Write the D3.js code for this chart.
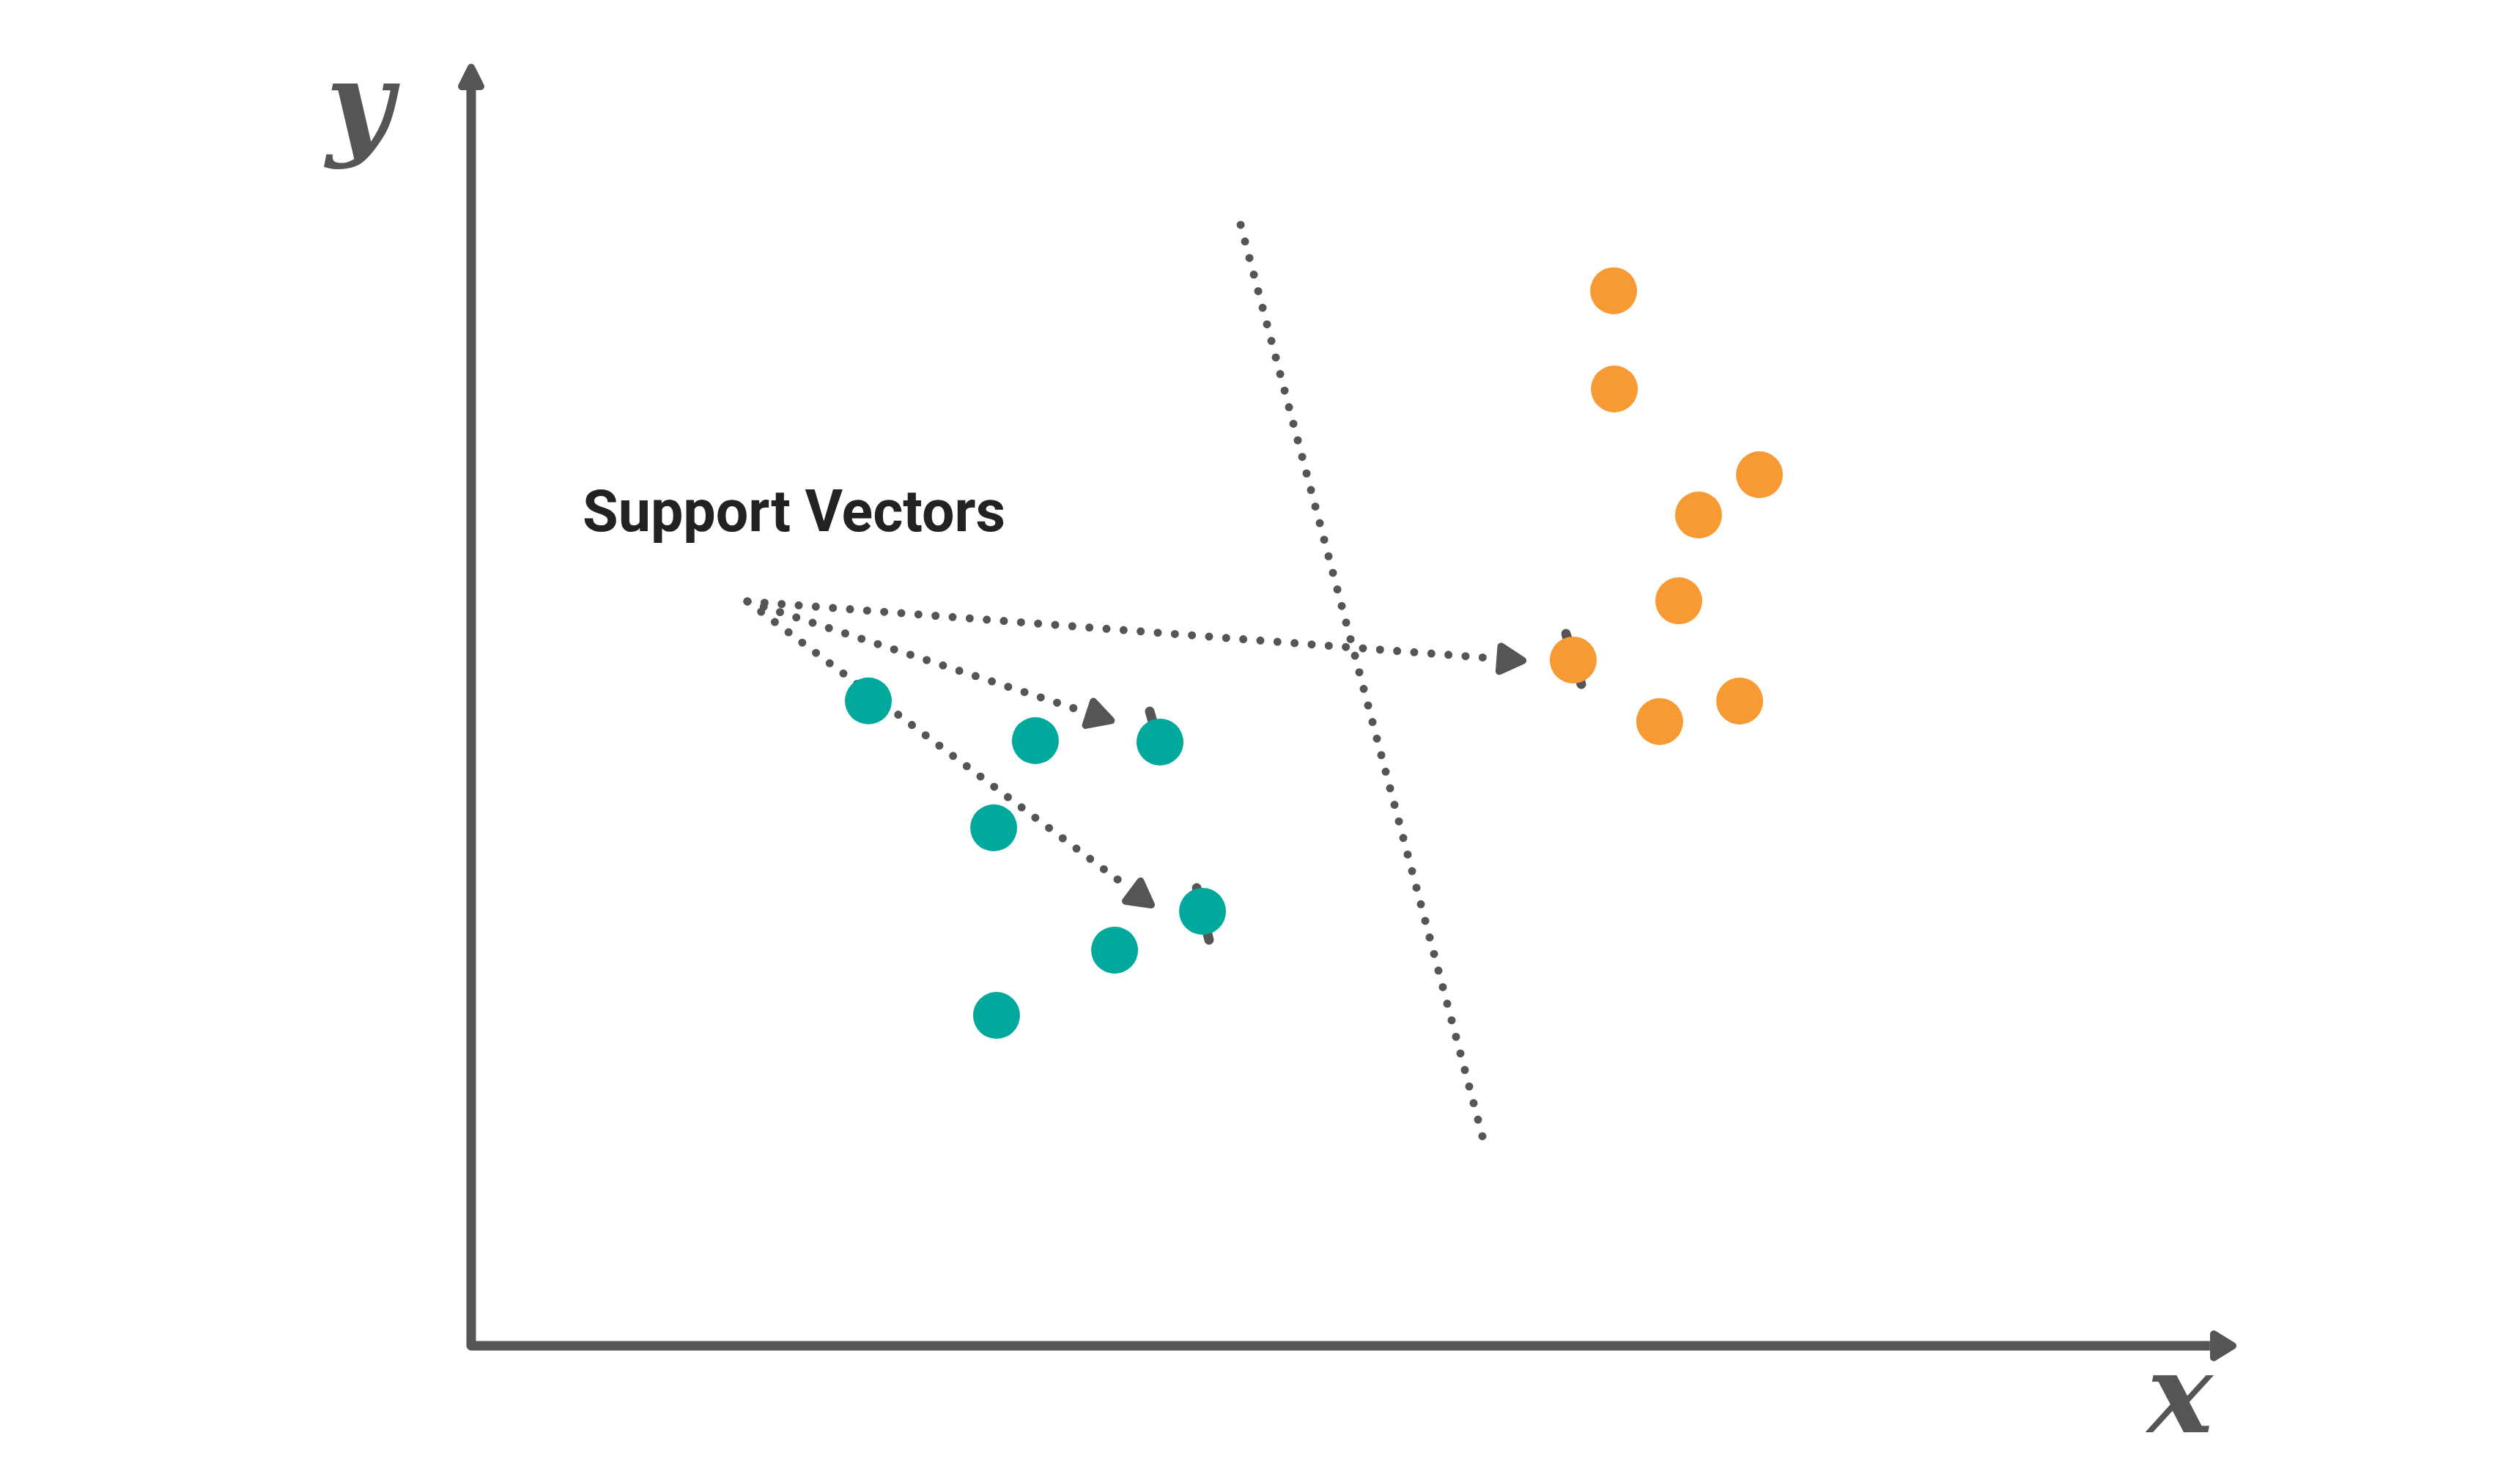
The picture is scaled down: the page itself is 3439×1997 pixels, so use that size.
<!DOCTYPE html>
<html>
<head>
<meta charset="utf-8">
<script src="https://cdn.jsdelivr.net/npm/d3@7"></script>
<style>
  html, body { margin: 0; padding: 0; background: #ffffff; }
  svg { display: block; }
</style>
</head>
<body>
<script>
// ---------- DATA (arbitrary feature units, 0..10 on both axes) ----------
const classA = [ // teal
  [2.25, 5.03], [3.196, 4.72], [3.902, 4.709], [2.96, 4.04],
  [4.143, 3.389], [3.645, 3.086], [2.976, 2.577]
];
const classB = [ // orange
  [6.472, 8.229], [6.476, 7.463], [7.298, 6.794], [6.953, 6.48],
  [6.243, 5.349], [6.841, 5.811], [6.733, 4.869], [7.186, 5.029]
];
const hyperplane = [[4.359, 8.743], [5.733, 1.611]];
const arrowOrigin = [1.565, 5.806];
const arrowTips = [[5.978, 5.343], [3.645, 4.869], [3.869, 3.423]];
const supportStubs = [
  [[6.202, 5.554], [6.289, 5.160]],
  [[3.844, 4.949], [3.919, 4.583]],
  [[4.110, 3.571], [4.180, 3.166]]
];
const annotation = "Support Vectors";
const axisLabels = { x: "x", y: "y" };

// ---------- LAYOUT ----------
const W = 3439, H = 1997;
const GREY = "#555555", TEAL = "#00a99b", ORANGE = "#f89a33";

const x = d3.scaleLinear().domain([0, 10]).range([643, 3052]);
const y = d3.scaleLinear().domain([0, 10]).range([1837, 87]);

const svg = d3.select("body").append("svg").attr("width", W).attr("height", H);
const line = d3.line().x(d => x(d[0])).y(d => y(d[1]));

// axes (with arrowheads)
svg.append("path")
  .attr("d", line([[0, 9.8], [0, 0], [9.85, 0]]))
  .attr("fill", "none").attr("stroke", GREY).attr("stroke-width", 13)
  .attr("stroke-linejoin", "round").attr("stroke-linecap", "butt");

function head(tipPx, angleDeg, len, half, sw) {
  svg.append("path")
    .attr("d", `M0,0 L${-len},${-half} L${-len},${half} Z`)
    .attr("transform", `translate(${tipPx[0]},${tipPx[1]}) rotate(${angleDeg})`)
    .attr("fill", GREY).attr("stroke", GREY).attr("stroke-width", sw)
    .attr("stroke-linejoin", "round");
}
head([x(0), y(10) + 5], -90, 26, 13, 10);
head([x(10) - 5, y(0)], 0, 26, 16, 10);

// hyperplane (dotted)
const DOT = { w: 11, dash: "0 23.4" };
svg.append("path")
  .attr("d", line(hyperplane))
  .attr("fill", "none").attr("stroke", GREY).attr("stroke-width", DOT.w)
  .attr("stroke-dasharray", DOT.dash).attr("stroke-linecap", "round");

// support-vector stubs (behind circles)
svg.selectAll("path.stub").data(supportStubs).join("path")
  .attr("class", "stub")
  .attr("d", d => line(d))
  .attr("stroke", GREY).attr("stroke-width", 13).attr("stroke-linecap", "round");

// arrows from the annotation to the support vectors
arrowTips.forEach(t => {
  const x0 = x(arrowOrigin[0]), y0 = y(arrowOrigin[1]);
  const x1 = x(t[0]), y1 = y(t[1]);
  const ang = Math.atan2(y1 - y0, x1 - x0);
  const L = Math.hypot(x1 - x0, y1 - y0);
  const back = 40;
  const ex = x0 + Math.cos(ang) * (L - back), ey = y0 + Math.sin(ang) * (L - back);
  svg.append("path")
    .attr("d", `M${x0},${y0} L${ex},${ey}`)
    .attr("fill", "none").attr("stroke", GREY).attr("stroke-width", DOT.w)
    .attr("stroke-dasharray", DOT.dash).attr("stroke-linecap", "round");
  head([x1 - Math.cos(ang) * 5, y1 - Math.sin(ang) * 5], ang * 180 / Math.PI, 31, 17, 10);
});

// points
svg.selectAll("circle.a").data(classA).join("circle")
  .attr("class", "a").attr("cx", d => x(d[0])).attr("cy", d => y(d[1]))
  .attr("r", 32).attr("fill", TEAL);
svg.selectAll("circle.b").data(classB).join("circle")
  .attr("class", "b").attr("cx", d => x(d[0])).attr("cy", d => y(d[1]))
  .attr("r", 32).attr("fill", ORANGE);

// annotation text
svg.append("text")
  .attr("x", 795).attr("y", 725)
  .attr("font-family", "Roboto, 'Noto Sans', sans-serif")
  .attr("font-weight", 700).attr("font-size", 79)
  .attr("fill", "#222222")
  .text(annotation);

// axis labels
svg.append("text")
  .attr("x", 491).attr("y", 196).attr("text-anchor", "middle")
  .attr("font-family", "'DejaVu Serif', serif").attr("font-style", "italic")
  .attr("font-weight", 700).attr("font-size", 158).attr("fill", GREY)
  .text(axisLabels.y);
svg.append("text")
  .attr("x", 2975).attr("y", 1955).attr("text-anchor", "middle")
  .attr("font-family", "'DejaVu Serif', serif").attr("font-style", "italic")
  .attr("font-weight", 700).attr("font-size", 150).attr("fill", GREY)
  .text(axisLabels.x);
</script>
</body>
</html>
